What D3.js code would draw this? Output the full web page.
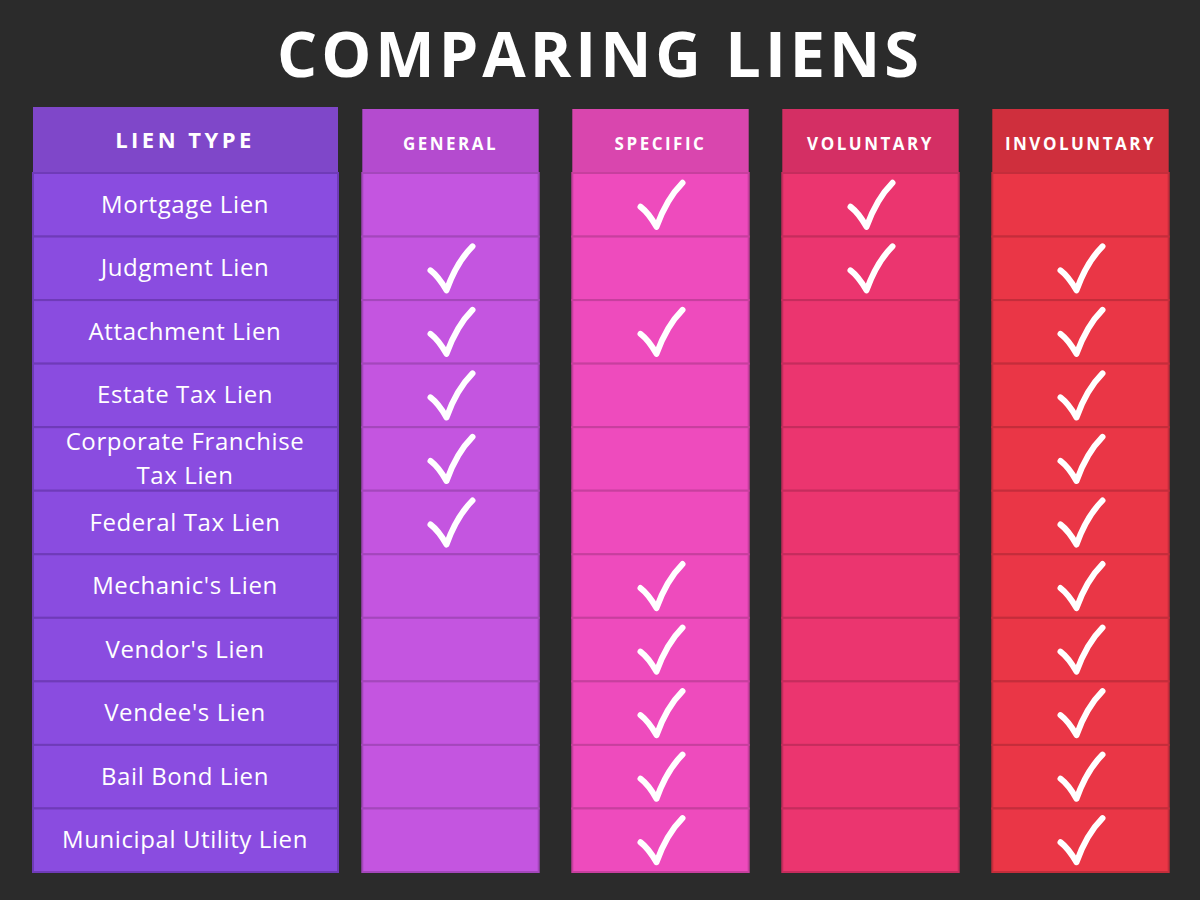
<!DOCTYPE html>
<html><head><meta charset="utf-8">
<script src="https://cdn.jsdelivr.net/npm/d3@7"></script>
<style>body{margin:0;background:#2b2b2b}svg{display:block}</style>
</head><body>
<svg id="s1" width="1200" height="900"></svg>
<script>
var lienTypes = ["Mortgage Lien", "Judgment Lien", "Attachment Lien", "Estate Tax Lien",
  "Corporate Franchise|Tax Lien", "Federal Tax Lien", "Mechanic's Lien", "Vendor's Lien",
  "Vendee's Lien", "Bail Bond Lien", "Municipal Utility Lien"];
var columns = ["GENERAL", "SPECIFIC", "VOLUNTARY", "INVOLUNTARY"];
var general = [0,1,1,1,1,1,0,0,0,0,0];
var specific = [1,0,1,0,0,0,1,1,1,1,1];
var voluntary = [1,1,0,0,0,0,0,0,0,0,0];
var involuntary = [0,1,1,1,1,1,1,1,1,1,1];
var checks = [general, specific, voluntary, involuntary];

var colBody = ["#c455e0", "#ee4bbd", "#eb356f", "#ea3646"];
var colHead = ["#b44bcf", "#d946ae", "#d42f64", "#cf2f3d"];

var svg = d3.select("#s1");
svg.append("text").attr("x", 600).attr("y", 77).attr("text-anchor", "middle")
  .attr("fill", "#fff").attr("font-family", "Open Sans").attr("font-weight", 700)
  .attr("font-size", 63).attr("letter-spacing", 4).text("COMPARING LIENS");

var y = d3.scaleBand().domain(d3.range(lienTypes.length)).range([173, 872]);
var x = d3.scaleBand().domain(columns).range([356, 1175]).paddingInner(0.16).paddingOuter(0.03);

// lien type column
svg.append("rect").attr("x", 33).attr("y", 107).attr("width", 305).attr("height", 66).attr("fill", "#7f47c9");
svg.append("text").attr("x", 185).attr("y", 148).attr("text-anchor", "middle").attr("fill", "#fff")
  .attr("font-family", "Open Sans").attr("font-weight", 700).attr("font-size", 22)
  .attr("letter-spacing", 3.5).text("LIEN TYPE");
svg.selectAll("rect.lt").data(lienTypes).join("rect").attr("class", "lt")
  .attr("x", 33).attr("y", (d,i) => y(i)).attr("width", 305).attr("height", y.bandwidth())
  .attr("fill", "#8a4ce0").attr("stroke", "#6f3bb8").attr("stroke-width", 2);
svg.selectAll("text.lt").data(lienTypes).join("text").attr("class", "lt")
  .attr("text-anchor", "middle").attr("fill", "#fff").attr("font-family", "Open Sans")
  .attr("font-size", 24).attr("letter-spacing", 0.6)
  .each(function(d, i) {
    var parts = d.split("|");
    var t = d3.select(this);
    parts.forEach((p, j) => t.append("tspan").attr("x", 185)
      .attr("y", y(i) + y.bandwidth()/2 + 8 + (j - (parts.length-1)/2) * 34).text(p));
  });

// check columns
columns.forEach(function(c, k) {
  var g = svg.append("g");
  g.append("rect").attr("x", x(c)).attr("y", 109).attr("width", x.bandwidth()).attr("height", 64).attr("fill", colHead[k]);
  g.append("text").attr("x", x(c) + x.bandwidth()/2).attr("y", 150).attr("text-anchor", "middle")
    .attr("fill", "#fff").attr("font-family", "Open Sans").attr("font-weight", 700)
    .attr("font-size", 17).attr("letter-spacing", 2.5).text(c);
  g.selectAll("rect.cell").data(checks[k]).join("rect").attr("class", "cell")
    .attr("x", x(c)).attr("y", (d,i) => y(i)).attr("width", x.bandwidth()).attr("height", y.bandwidth())
    .attr("fill", colBody[k]).attr("stroke", d3.color(colBody[k]).darker(0.5)).attr("stroke-width", 2);
  g.selectAll("path").data(checks[k].map((v,i) => ({v:v, i:i})).filter(d => d.v)).join("path")
    .attr("transform", d => "translate(" + (x(c) + x.bandwidth()/2) + "," + (y(d.i) + y.bandwidth()/2) + ")")
    .attr("d", "M-20,2 Q-12,8 -4,22 Q6,-6 22,-22")
    .attr("fill", "none").attr("stroke", "#fff").attr("stroke-width", 6)
    .attr("stroke-linecap", "round").attr("stroke-linejoin", "round");
});
</script>
</body></html>
